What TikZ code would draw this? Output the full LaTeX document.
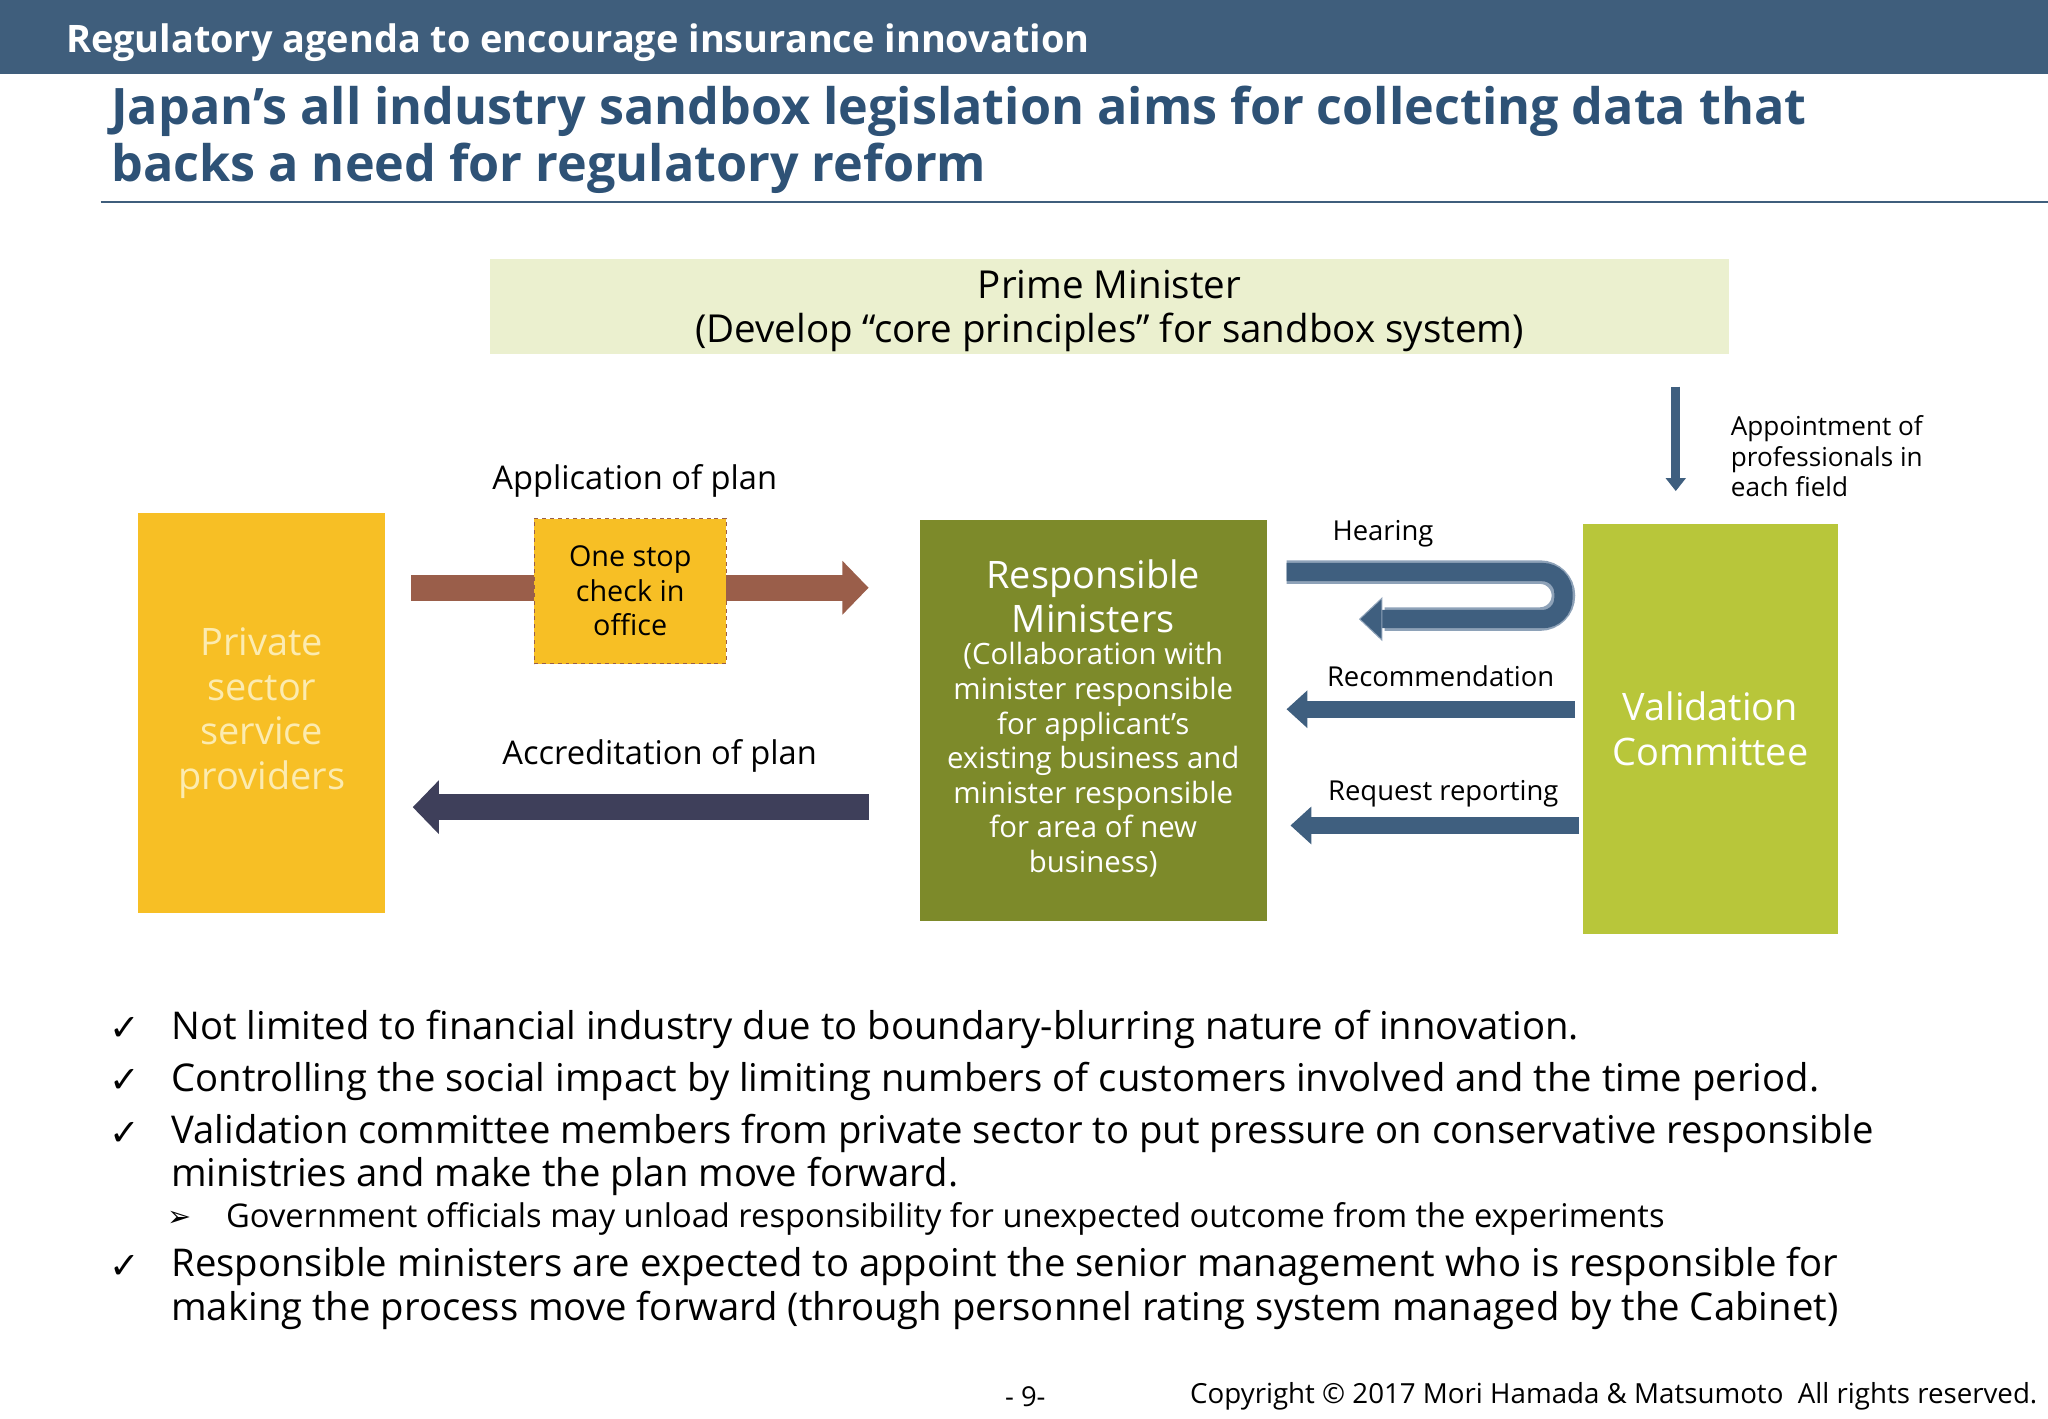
\documentclass[tikz,border=0pt]{standalone}
\usepackage{fontspec}
\setmainfont{Open Sans}
\newfontfamily\dejavu{DejaVu Sans}
\usetikzlibrary{arrows.meta,positioning}
\definecolor{barblue}{HTML}{3F5E7C}
\definecolor{titleblue}{HTML}{2E5276}
\definecolor{pmgreen}{HTML}{EBF0CF}
\definecolor{privyellow}{HTML}{F7BF25}
\definecolor{privtext}{HTML}{FCEBB0}
\definecolor{olive}{HTML}{7D8A2A}
\definecolor{lime}{HTML}{B8C63A}
\definecolor{brownarr}{HTML}{9A5E4A}
\definecolor{darkarr}{HTML}{3E3F5A}
\definecolor{steelarr}{HTML}{3F5F7F}
\definecolor{steeledge}{HTML}{8EA2B8}
\tikzset{
  box/.style={draw=none, minimum width=#1, inner sep=0pt, align=center},
  lbl/.style={font=\fontsize{21}{25}\selectfont, inner sep=0pt},
  bullet/.style={anchor=west, inner sep=0pt, align=left, font=\fontsize{29.3}{34}\selectfont},
  fat/.style={line width=20pt, -{Triangle[length=20pt,width=40pt]}},
  slim/.style={line width=13pt, draw=steelarr, -{Triangle[length=16pt,width=28pt]}},
}
\begin{document}
\begin{tikzpicture}[x=1pt,y=-1pt]
\useasboundingbox (0,0) rectangle (1568,1086);
% header
\fill[barblue] (0,0) rectangle (1568,57);
\node[anchor=west, text=white, font=\bfseries\fontsize{29}{30}\selectfont] (head) at (47,33) {Regulatory agenda to encourage insurance innovation};
\node[anchor=north west, text=titleblue, align=left, font=\bfseries\fontsize{38.5}{43}\selectfont, inner sep=0pt] (title) at (85,66)
  {Japan’s all industry sandbox legislation aims for collecting data that\\backs a need for regulatory reform};
\draw[barblue, line width=1.5pt] (77,155) -- (1568,155);
% boxes
\node[box=949pt, fill=pmgreen, minimum height=73pt] (pm) at (849.5,234.5) {};
\node[align=center, inner sep=0pt, font=\fontsize{29.5}{34}\selectfont] (pmtext) at (849.5,238)
  {Prime Minister\\(Develop “core principles” for sandbox system)};
\node[box=189pt, fill=privyellow, minimum height=306pt, text=privtext, font=\fontsize{29}{34}\selectfont] (priv) at (200.5,546)
  {Private\\sector\\service\\providers};
\node[box=266pt, fill=olive, minimum height=307pt] (resp) at (837,551.5) {};
\node[anchor=north, text=white, align=center, inner sep=0pt, font=\fontsize{29}{34}\selectfont] (resphead) at (837,428)
  {Responsible\\Ministers};
\node[below=7pt of resphead, text=white, align=center, inner sep=0pt, font=\fontsize{22.5}{26.5}\selectfont] (respbody)
  {(Collaboration with\\minister responsible\\for applicant’s\\existing business and\\minister responsible\\for area of new\\business)};
\node[box=195pt, fill=lime, minimum height=314pt, text=white, font=\fontsize{29}{34}\selectfont] (valid) at (1309.5,558)
  {Validation\\Committee};
% application / accreditation
\node[lbl, font=\fontsize{25}{27}\selectfont] (applbl) at (486,368) {Application of plan};
\coordinate (appS) at (315,450);
\coordinate (appE) at (665,450);
\draw[fat, brownarr] (appS) -- (appE);
\node[box=147pt, minimum height=111pt, fill=privyellow, draw=brownarr, dashed, thick, font=\fontsize{22}{26.5}\selectfont] (stop) at (482.5,452.5)
  {One stop\\check in\\office};
\node[lbl, font=\fontsize{25}{27}\selectfont] (acclbl) at (505,579) {Accreditation of plan};
\coordinate (accS) at (665,618);
\coordinate (accE) at (316,618);
\draw[fat, darkarr] (accS) -- (accE);
% prime minister to committee
\coordinate (apS) at (1283,296);
\coordinate (apE) at (1283,376);
\draw[line width=7pt, draw=steelarr, -{Triangle[length=10pt,width=15pt]}] (apS) -- (apE);
\node[lbl, anchor=north west, align=left, font=\fontsize{20}{23.5}\selectfont] (aplbl) at (1325,318)
  {Appointment of\\professionals in\\each field};
% hearing
\node[lbl, anchor=west] (hearlbl) at (1020,409) {Hearing};
\coordinate (hS) at (985,438);
\coordinate (hE) at (1041,474);
\draw[line width=18pt, steeledge, rounded corners=18pt] (hS) -- (1197,438) -- (1197,474) -- (1060,474);
\draw[line width=14pt, steelarr, rounded corners=16pt] (hS) -- (1197,438) -- (1197,474) -- (1058,474);
\fill[steelarr, draw=steeledge, thick] (hE) -- (1058,458) -- (1058,490) -- cycle;
% recommendation / reporting
\node[lbl] (reclbl) at (1103,518) {Recommendation};
\coordinate (recS) at (1206,543);
\coordinate (recE) at (985,543);
\draw[slim] (recS) -- (recE);
\node[lbl] (replbl) at (1105,608) {Request reporting};
\coordinate (repS) at (1209,632);
\coordinate (repE) at (988,632);
\draw[slim] (repS) -- (repE);
% bullets
\foreach \y/\t in {788/{Not limited to financial industry due to boundary-blurring nature of innovation.},
                   828/{Controlling the social impact by limiting numbers of customers involved and the time period.},
                   868/{Validation committee members from private sector to put pressure on conservative responsible},
                   970/{Responsible ministers are expected to appoint the senior management who is responsible for}}{
  \node[bullet] at (84,\y) {\dejavu\fontsize{28}{30}\selectfont ✓};
  \node[bullet] at (131,\y) {\t};
}
\node[bullet] (l2) at (131,901) {ministries and make the plan move forward.};
\node[bullet] (l5) at (131,1003) {making the process move forward (through personnel rating system managed by the Cabinet)};
\node[bullet] (subm) at (128,933) {\dejavu\fontsize{22}{24}\selectfont ➢};
\node[bullet, font=\fontsize{25}{27}\selectfont] (sub) at (173,933) {Government officials may unload responsibility for unexpected outcome from the experiments};
% footer
\node[lbl, font=\fontsize{21}{24}\selectfont] (page) at (785,1069) {- 9-};
\node[lbl, anchor=east, font=\fontsize{21.2}{24}\selectfont] (copy) at (1560,1069) {Copyright © 2017 Mori Hamada \& Matsumoto\ \ All rights reserved.};
\end{tikzpicture}
\end{document}
